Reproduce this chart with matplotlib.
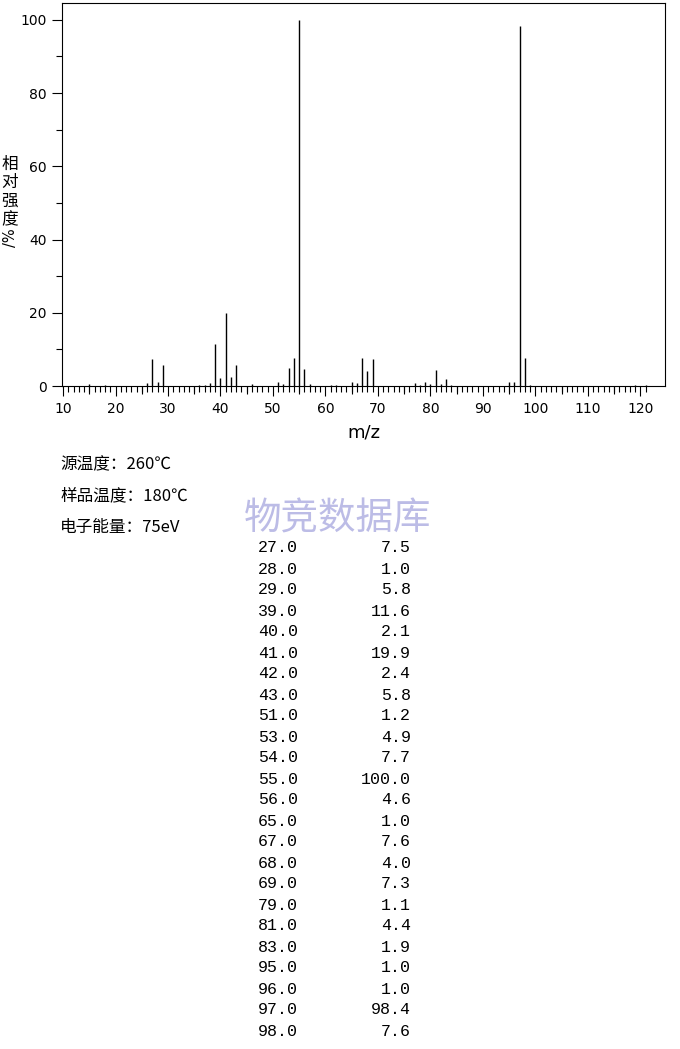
import numpy as np
import matplotlib
matplotlib.use('Agg')
import matplotlib.pyplot as plt
from matplotlib.ticker import MultipleLocator, FixedLocator

plt.rcParams['font.family'] = ['DejaVu Sans', 'Noto Sans CJK SC']

# 表中列出的峰 (m/z, 相对强度)
table_mz = [27.0, 28.0, 29.0, 39.0, 40.0, 41.0, 42.0, 43.0, 51.0, 53.0, 54.0, 55.0,
            56.0, 65.0, 67.0, 68.0, 69.0, 79.0, 81.0, 83.0, 95.0, 96.0, 97.0, 98.0]
table_int = [7.5, 1.0, 5.8, 11.6, 2.1, 19.9, 2.4, 5.8, 1.2, 4.9, 7.7, 100.0,
             4.6, 1.0, 7.6, 4.0, 7.3, 1.1, 4.4, 1.9, 1.0, 1.0, 98.4, 7.6]

# 图中可见但未列入表的小峰 (估计值)
minor_mz = [15, 18, 26, 36, 37, 38, 46, 52, 57, 61, 62, 66, 77, 78, 80, 82, 84, 99, 119, 121]
minor_int = [0.5, 0.3, 0.8, 0.3, 0.3, 0.8, 0.5, 0.5, 0.5, 0.3, 0.3, 0.8, 0.8, 0.3, 0.5,
             0.6, 0.3, 0.2, 0.3, 0.3]

info_lines = ['源温度：260℃', '样品温度：180℃', '电子能量：75eV']

W, H = 680, 1049
fig = plt.figure(figsize=(W / 100, H / 100), dpi=100)

def px(x, y):
    return x / W, 1 - y / H

# 质谱图区域
ax = fig.add_axes([62 / W, 1 - 386 / H, (665 - 62) / W, (386 - 3) / H])
ax.vlines(table_mz + minor_mz, 0, table_int + minor_int, color='black', lw=1.0)
ax.set_xlim(9.8, 124.7)
ax.set_ylim(0, 104.6)
for s in ax.spines.values():
    s.set_linewidth(0.8)

ax.xaxis.set_major_locator(MultipleLocator(10))
ax.xaxis.set_minor_locator(FixedLocator(np.arange(10, 122)))
ax.yaxis.set_major_locator(MultipleLocator(20))
ax.yaxis.set_minor_locator(MultipleLocator(10))
ax.tick_params(axis='x', which='major', length=7.2, width=0.8, pad=4, labelsize=10)
ax.tick_params(axis='x', which='minor', length=4.3, width=0.8)
ax.tick_params(axis='y', which='major', length=7, width=0.8, pad=4, labelsize=10)
ax.tick_params(axis='y', which='minor', length=4.5, width=0.8)

# 每 5 个单位的中等刻度
sec = ax.secondary_xaxis('bottom')
sec.set_xticks(np.arange(15, 125, 10))
sec.set_xticklabels([])
sec.tick_params(length=5.8, width=0.8)
sec.spines['bottom'].set_visible(False)

ax.set_xlabel('m/z', fontsize=13, labelpad=6)

# 纵轴标题 (竖排)
for i, ch in enumerate('相对强度'):
    fig.text(*px(10, 164 + i * 18.5), ch, fontsize=12, ha='center', va='center',
             family=['Noto Sans CJK SC', 'DejaVu Sans'])
fig.text(*px(10, 238), '/%', fontsize=10.5, ha='center', va='center', rotation=90)

# 实验条件
for i, line in enumerate(info_lines):
    fig.text(*px(60, 465 + i * 31), line, fontsize=12, ha='left', va='center',
             family=['Noto Sans CJK SC', 'DejaVu Sans'])

# 水印
fig.text(*px(338, 519), '物竞数据库', fontsize=27, ha='center', va='center',
         color='#bcbce6', family=['Noto Sans CJK SC', 'DejaVu Sans'])

# 峰值表
for i, (m, v) in enumerate(zip(table_mz, table_int)):
    y = 548 + i * 21
    fig.text(*px(258, y), f'{m:.1f}', fontsize=12, ha='left', va='center',
             family='Liberation Mono')
    fig.text(*px(411, y), f'{v:.1f}', fontsize=12, ha='right', va='center',
             family='Liberation Mono')

fig.savefig('out.png', dpi=100, facecolor='white')
